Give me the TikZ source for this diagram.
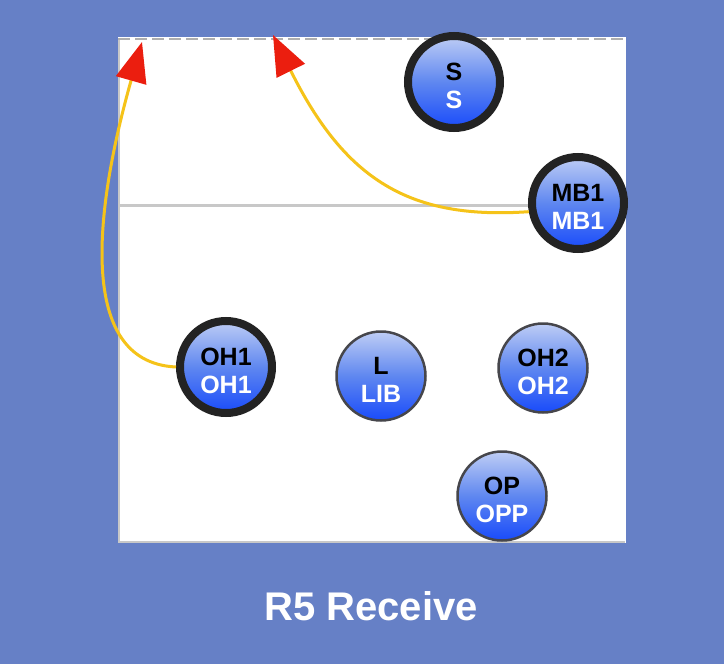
\documentclass[tikz,border=0pt]{standalone}
\usepackage{fontspec}
\setmainfont{Liberation Sans}
\usetikzlibrary{arrows.meta}
\definecolor{bgblue}{RGB}{102,128,198}
\definecolor{courtline}{RGB}{200,200,200}
\definecolor{dashgrey}{RGB}{175,175,175}
\definecolor{ropecol}{RGB}{245,195,25}
\definecolor{headred}{RGB}{235,30,15}
\definecolor{ballhi}{RGB}{190,205,245}
\definecolor{ballmid}{RGB}{95,135,240}
\definecolor{balllo}{RGB}{25,75,250}
\definecolor{rimdark}{RGB}{35,35,35}
\definecolor{rimthin}{RGB}{70,70,75}
\tikzset{
  ball/.style={circle, inner sep=0pt, top color=ballhi, bottom color=balllo, middle color=ballmid},
  boldrim/.style={ball, draw=rimdark, line width=8pt, minimum size=92pt},
  thinrim/.style={ball, draw=rimthin, line width=2.5pt, minimum size=89pt},
  toplab/.style={font=\bfseries\fontsize{25}{25}\selectfont, text=black, inner sep=0pt},
  botlab/.style={font=\bfseries\fontsize{25}{25}\selectfont, text=white, inner sep=0pt},
  route/.style={draw=ropecol, line width=3pt, -{Triangle[length=40pt,width=31pt,fill=headred,color=headred]}},
}
\newcommand{\plyr}[5]{%
  \node[#5] (#1) at (#2) {};
  \node[toplab] (#1top) at ([yshift=10.5pt]#1.center) {#3};
  \node[botlab] (#1bot) at ([yshift=-17.5pt]#1.center) {#4};
}
\begin{document}
\begin{tikzpicture}[x=1pt,y=-1pt]
\useasboundingbox (0,0) rectangle (724,664);
\fill[bgblue] (0,0) rectangle (724,664);
% court
\fill[white] (118,37) rectangle (626,543);
\draw[courtline, line width=1.5pt] (119,38) -- (119,542) -- (625,542);
\draw[dashgrey, line width=2.5pt, dash pattern=on 12pt off 5pt] (118,39) -- (626,39);
\draw[courtline, line width=3pt] (118,205) -- (626,205);
% players
\plyr{S}{454,82}{S}{S}{boldrim}
\plyr{MB1}{578,203}{MB1}{MB1}{boldrim}
\plyr{OH1}{226,367}{OH1}{OH1}{boldrim}
\plyr{L}{381,376}{L}{LIB}{thinrim}
\plyr{OH2}{543,368}{OH2}{OH2}{thinrim}
\plyr{OP}{502,496}{OP}{OPP}{thinrim}
% route targets
\coordinate (t1) at (142,42);
\coordinate (t2) at (273,35);
\draw[route] (OH1.180) .. controls (70,362) and (100,190) .. (t1);
\draw[route] (MB1.190) .. controls (410,220) and (345,180) .. (t2);
% title
\node[font=\bfseries\fontsize{40}{40}\selectfont, text=white, inner sep=0pt] (title) at (371,606) {R5 Receive};
\end{tikzpicture}
\end{document}
